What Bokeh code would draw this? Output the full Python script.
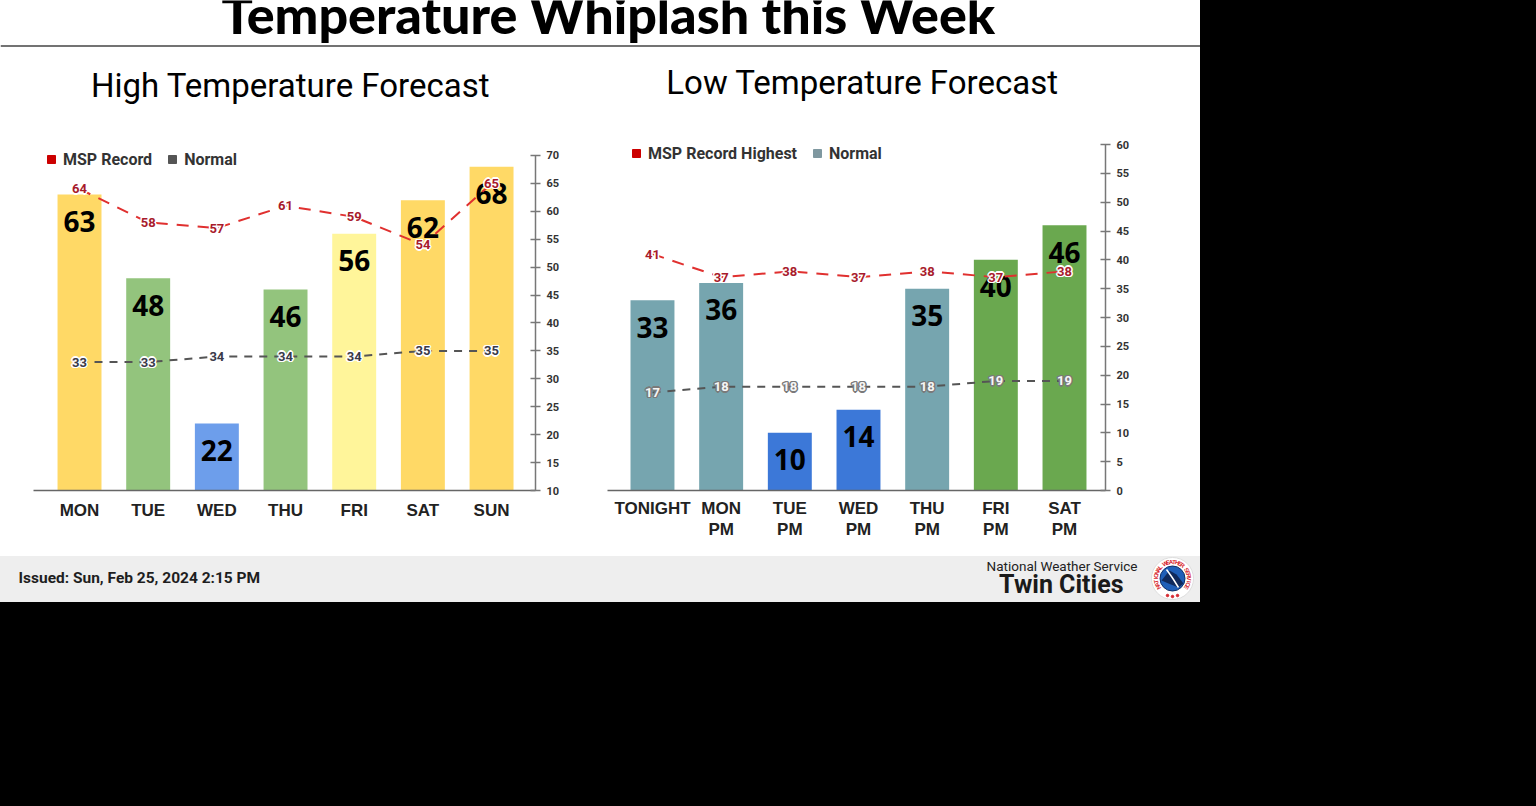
from bokeh.plotting import figure
from bokeh.layouts import column, row
from bokeh.models import (Range1d, LinearAxis, FixedTicker, SingleIntervalTicker,
                          Legend, LegendItem, ColumnDataSource)
from bokeh.embed import file_html
from bokeh.resources import INLINE
from bokeh.core.properties import value
import numpy as np

# ---------------- data ----------------
page_title = "Temperature Whiplash this Week"
subtitles = ["High Temperature Forecast", "Low Temperature Forecast"]

high_days = ["MON", "TUE", "WED", "THU", "FRI", "SAT", "SUN"]
high_forecast = [63, 48, 22, 46, 56, 62, 68]
high_record = [64, 58, 57, 61, 59, 54, 65]
high_normal = [33, 33, 34, 34, 34, 35, 35]
high_colors = ["#FFD966", "#93C47D", "#6D9EEB", "#93C47D", "#FFF59A", "#FFD966", "#FFD966"]

low_periods = ["TONIGHT", "MON\nPM", "TUE\nPM", "WED\nPM", "THU\nPM", "FRI\nPM", "SAT\nPM"]
low_forecast = [33, 36, 10, 14, 35, 40, 46]
low_record = [41, 37, 38, 37, 38, 37, 38]
low_normal = [17, 18, 18, 18, 18, 19, 19]
low_colors = ["#76A5AF", "#76A5AF", "#3C78D8", "#3C78D8", "#76A5AF", "#6AA84F", "#6AA84F"]

issued_text = "Issued: Sun, Feb 25, 2024 2:15 PM"
office_line1 = "National Weather Service"
office_line2 = "Twin Cities"

ROBOTO = value("Roboto")
SANS = value("Liberation Sans")
WHITE_BOX = {"background-color": "white"}

# small ring of offsets used to put a halo behind point labels
HALO = [(-1.5, 0), (1.5, 0), (0, -1.5), (0, 1.5), (-1, -1), (1, 1), (-1, 1), (1, -1)]


def halo_labels(p, xs, ys, color, halo, bold=False):
    texts = [str(v) for v in ys]
    style = "bold" if bold else "normal"
    for dx, dy in HALO:
        p.text(x=xs, y=ys, text=texts, x_offset=dx, y_offset=dy, text_align="center",
               text_baseline="middle", text_color=halo, text_font=ROBOTO,
               text_font_size="13px", text_font_style=style)
    p.text(x=xs, y=ys, text=texts, text_align="center", text_baseline="middle",
           text_color=color, text_font=ROBOTO, text_font_size="13px",
           text_font_style=style)


def forecast_chart(labels, forecast, record, normal, colors, y_lo, y_hi, y_top,
                   x_lo, x_hi, border_left, border_right, legend_names,
                   legend_loc, normal_square, normal_text, normal_halo, x_standoff):
    xs = list(range(len(labels)))
    p = figure(width=600, height=441, x_range=Range1d(x_lo, x_hi),
               y_range=Range1d(y_lo, y_top), output_backend="svg",
               toolbar_location=None, y_axis_location=None,
               min_border_left=border_left, min_border_right=border_right,
               min_border_top=0, min_border_bottom=66)
    p.outline_line_color = None
    p.grid.visible = False
    p.background_fill_color = "white"
    p.border_fill_color = "white"
    p.styles = WHITE_BOX

    src = ColumnDataSource(dict(x=xs, top=forecast, color=colors,
                                label=[str(v) for v in forecast]))
    p.vbar(x="x", top="top", bottom=y_lo, width=0.64, fill_color="color",
           line_color=None, source=src)
    p.text(x="x", y="top", text="label", source=src, y_offset=27,
           text_align="center", text_baseline="middle", text_color="black",
           text_font=value("Noto Sans"), text_font_style="bold",
           text_font_size="28px")

    # record line
    p.line(xs, record, line_color="#E0302F", line_width=2, line_dash="12 9")
    halo_labels(p, xs, record, "#A81B2C", "white", bold=True)
    # normal line
    p.line(xs, normal, line_color="#555555", line_width=2, line_dash="8 7")
    halo_labels(p, xs, normal, normal_text, normal_halo, bold=True)

    # legend swatches
    r1 = p.scatter(xs, record, marker="square", color="#CC0000", visible=False)
    r2 = p.scatter(xs, normal, marker="square", color=normal_square, visible=False)
    legend = Legend(items=[LegendItem(label=legend_names[0], renderers=[r1]),
                           LegendItem(label=legend_names[1], renderers=[r2])],
                    orientation="horizontal", location=legend_loc,
                    glyph_width=20, glyph_height=20, label_standoff=2,
                    spacing=10, padding=0, margin=0,
                    border_line_color=None, background_fill_alpha=0,
                    label_text_font="Roboto", label_text_font_size="16px",
                    label_text_font_style="bold", label_text_color="#333333")
    p.add_layout(legend)

    # category axis
    xa = p.xaxis[0]
    xa.ticker = FixedTicker(ticks=xs)
    xa.major_label_overrides = {i: lab for i, lab in zip(xs, labels)}
    xa.axis_line_color = "#666666"
    xa.axis_line_width = 1.5
    xa.major_tick_line_color = None
    xa.minor_tick_line_color = None
    xa.major_label_standoff = x_standoff
    xa.major_label_text_font = "Liberation Sans"
    xa.major_label_text_font_style = "bold"
    xa.major_label_text_font_size = "17px"
    xa.major_label_text_color = "#222222"
    xa.major_label_text_line_height = 1.15

    # temperature axis on the right
    ya = LinearAxis(bounds=(y_lo, y_hi),
                    ticker=SingleIntervalTicker(interval=5, num_minor_ticks=0))
    ya.axis_line_color = "#777777"
    ya.axis_line_width = 1.5
    ya.major_tick_line_color = "#777777"
    ya.major_tick_line_width = 1.5
    ya.major_tick_in = 5
    ya.major_tick_out = 5
    ya.minor_tick_line_color = None
    ya.major_label_standoff = 6
    ya.major_label_text_font = "Roboto"
    ya.major_label_text_font_style = "bold"
    ya.major_label_text_font_size = "11px"
    ya.major_label_text_color = "#333333"
    p.add_layout(ya, "right")
    return p


left = forecast_chart(high_days, high_forecast, high_record, high_normal, high_colors,
                      10, 70, 77.16, -0.67, 6.64, 33, 65,
                      ["MSP Record", "Normal"], (8, 321),
                      "#555555", "#3A3A4A", "white", 4)
right = forecast_chart(low_periods, low_forecast, low_record, low_normal, low_colors,
                       0, 60, 65.03, -0.655, 6.597, 7, 95,
                       ["MSP Record Highest", "Normal"], (19, 327),
                       "#7F98A0", "#F6F6F6", "#7A7A7A", 2)

# ---------------- header ----------------
head = figure(width=1200, height=115, x_range=Range1d(0, 1200), y_range=Range1d(115, 0),
              output_backend="svg", toolbar_location=None, min_border=0,
              x_axis_location=None, y_axis_location=None)
head.outline_line_color = None
head.grid.visible = False
head.styles = WHITE_BOX
head.text(x=[608], y=[13], text=[page_title], text_align="center",
          text_baseline="middle", text_color="black",
          text_font=value("Lato Black"), text_font_style="bold",
          text_font_size="52px")
head.segment(x0=[0], y0=[45.5], x1=[1200], y1=[45.5], line_color="#444444", line_width=1.5)
head.text(x=[290, 862], y=[84.5, 81.5], text=subtitles, text_align="center",
          text_baseline="middle", text_color="black", text_font=ROBOTO,
          text_font_size="33px")

# ---------------- footer ----------------
foot = figure(width=1200, height=46, x_range=Range1d(0, 1200), y_range=Range1d(46, 0),
              output_backend="svg", toolbar_location=None, min_border=0,
              x_axis_location=None, y_axis_location=None)
foot.outline_line_color = None
foot.grid.visible = False
foot.background_fill_color = "#EEEEEE"
foot.border_fill_color = "#EEEEEE"
foot.styles = {"background-color": "#EEEEEE"}
foot.text(x=[18], y=[21], text=[issued_text], text_align="left", text_baseline="middle",
          text_color="#1E1E1E", text_font=ROBOTO, text_font_style="bold",
          text_font_size="15.5px")
foot.text(x=[1137], y=[9], text=[office_line1], text_align="right",
          text_baseline="middle", text_color="#222222", text_font=ROBOTO,
          text_font_size="13.5px")
foot.text(x=[1123], y=[27.5], text=[office_line2], text_align="right",
          text_baseline="middle", text_color="#1A1A1A", text_font=ROBOTO,
          text_font_style="bold", text_font_size="25px")

# NWS emblem
cx, cy = 1172, 22
foot.circle(x=[cx], y=[cy], radius=21, fill_color="white", line_color="#DDDDDD", line_width=1)
ring = "NATIONAL WEATHER SERVICE"
theta = np.radians(np.linspace(212, -32, len(ring)))
foot.text(x=cx + 16.5 * np.cos(theta), y=cy - 16.5 * np.sin(theta), text=list(ring),
          angle=theta - np.pi / 2, text_align="center", text_baseline="middle",
          text_color="#D7262E", text_font=SANS, text_font_style="bold",
          text_font_size="6px")
foot.scatter(x=[cx - 5, cx, cx + 5], y=[cy + 17, cy + 18, cy + 17], size=2.5,
             color="#D7262E")
foot.circle(x=[cx], y=[cy], radius=12.5, fill_color="#1F5FB8", line_color="#0E2F66",
            line_width=1)
foot.patch(x=[cx - 11, cx - 3, cx + 4, cx + 11, cx + 6, cx - 4],
           y=[cy + 2, cy - 8, cy - 4, cy + 5, cy + 9, cy + 5],
           fill_color="#102A5C", line_color=None)
foot.line(x=[cx - 6, cx - 1, cx + 1, cx + 6], y=[cy - 9, cy - 2, cy + 1, cy + 9],
          line_color="white", line_width=1.5)

charts = row(left, right, styles=WHITE_BOX)
layout = column(head, charts, foot, styles=WHITE_BOX)

html = file_html(layout, INLINE, title=page_title)
page_css = "<style>html, body { margin: 0; background: #000000 !important; }</style>"
html = html.replace("</head>", page_css + "\n</head>", 1)
open("out.html", "w").write(html)
